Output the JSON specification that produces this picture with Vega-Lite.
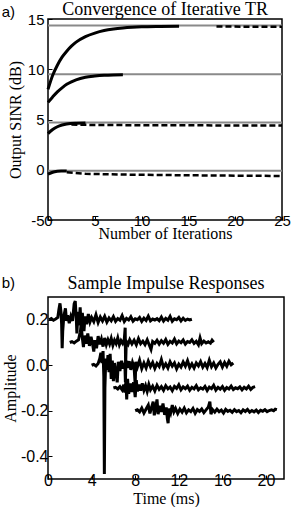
{
  "$schema": "https://vega.github.io/schema/vega-lite/v6.json",
  "padding": 0,
  "bounds": "flush",
  "spacing": 77,
  "background": "white",
  "config": {
    "view": {"stroke": "black", "strokeWidth": 1.5},
    "axis": {"domain": false, "grid": false, "tickColor": "black", "tickSize": -4, "tickWidth": 1,
      "labelFont": "Liberation Sans", "labelColor": "black", "labelOverlap": false, "labelBound": false, "labelFlush": false,
      "titleFont": "Liberation Serif", "titleFontWeight": "normal", "titleColor": "black", "titleFontSize": 16},
    "title": {"font": "Liberation Serif", "fontWeight": "normal", "fontSize": 18, "color": "black"}
  },
  "datasets": {
    "conv": [
      {"grp": 1, "style": "ref", "iter": 0, "sinr": 14.35}, {"grp": 1, "style": "ref", "iter": 25, "sinr": 14.35},
      {"grp": 2, "style": "ref", "iter": 0, "sinr": 9.5}, {"grp": 2, "style": "ref", "iter": 25, "sinr": 9.5},
      {"grp": 3, "style": "ref", "iter": 0, "sinr": 4.7}, {"grp": 3, "style": "ref", "iter": 25, "sinr": 4.7},
      {"grp": 4, "style": "ref", "iter": 0, "sinr": -0.1}, {"grp": 4, "style": "ref", "iter": 25, "sinr": -0.1},
      {"grp": 1, "style": "itr", "iter": 0, "sinr": 8.0}, {"grp": 1, "style": "itr", "iter": 0.5, "sinr": 9.4},
      {"grp": 1, "style": "itr", "iter": 1, "sinr": 10.4}, {"grp": 1, "style": "itr", "iter": 1.5, "sinr": 11.2},
      {"grp": 1, "style": "itr", "iter": 2, "sinr": 11.8}, {"grp": 1, "style": "itr", "iter": 2.5, "sinr": 12.3},
      {"grp": 1, "style": "itr", "iter": 3, "sinr": 12.7}, {"grp": 1, "style": "itr", "iter": 4, "sinr": 13.25},
      {"grp": 1, "style": "itr", "iter": 5, "sinr": 13.6}, {"grp": 1, "style": "itr", "iter": 6, "sinr": 13.85},
      {"grp": 1, "style": "itr", "iter": 7, "sinr": 14.0}, {"grp": 1, "style": "itr", "iter": 8, "sinr": 14.1},
      {"grp": 1, "style": "itr", "iter": 9, "sinr": 14.17}, {"grp": 1, "style": "itr", "iter": 10, "sinr": 14.22},
      {"grp": 1, "style": "itr", "iter": 12, "sinr": 14.26}, {"grp": 1, "style": "itr", "iter": 14, "sinr": 14.28},
      {"grp": 2, "style": "itr", "iter": 0, "sinr": 6.7}, {"grp": 2, "style": "itr", "iter": 0.5, "sinr": 7.25},
      {"grp": 2, "style": "itr", "iter": 1, "sinr": 7.75}, {"grp": 2, "style": "itr", "iter": 1.5, "sinr": 8.15},
      {"grp": 2, "style": "itr", "iter": 2, "sinr": 8.5}, {"grp": 2, "style": "itr", "iter": 2.5, "sinr": 8.75},
      {"grp": 2, "style": "itr", "iter": 3, "sinr": 8.95}, {"grp": 2, "style": "itr", "iter": 4, "sinr": 9.2},
      {"grp": 2, "style": "itr", "iter": 5, "sinr": 9.32}, {"grp": 2, "style": "itr", "iter": 6, "sinr": 9.4},
      {"grp": 2, "style": "itr", "iter": 7, "sinr": 9.44}, {"grp": 2, "style": "itr", "iter": 8, "sinr": 9.46},
      {"grp": 3, "style": "itr", "iter": 0, "sinr": 3.6}, {"grp": 3, "style": "itr", "iter": 0.5, "sinr": 4.0},
      {"grp": 3, "style": "itr", "iter": 1, "sinr": 4.28}, {"grp": 3, "style": "itr", "iter": 1.5, "sinr": 4.45},
      {"grp": 3, "style": "itr", "iter": 2, "sinr": 4.55}, {"grp": 3, "style": "itr", "iter": 3, "sinr": 4.62},
      {"grp": 3, "style": "itr", "iter": 4, "sinr": 4.64},
      {"grp": 4, "style": "itr", "iter": 0, "sinr": -0.45}, {"grp": 4, "style": "itr", "iter": 0.5, "sinr": -0.25},
      {"grp": 4, "style": "itr", "iter": 1, "sinr": -0.16}, {"grp": 4, "style": "itr", "iter": 1.5, "sinr": -0.13},
      {"grp": 4, "style": "itr", "iter": 2, "sinr": -0.12},
      {"grp": 1, "style": "alt", "iter": 18, "sinr": 14.25}, {"grp": 1, "style": "alt", "iter": 25, "sinr": 14.22},
      {"grp": 3, "style": "alt", "iter": 2.5, "sinr": 4.5}, {"grp": 3, "style": "alt", "iter": 5, "sinr": 4.45},
      {"grp": 3, "style": "alt", "iter": 15, "sinr": 4.42}, {"grp": 3, "style": "alt", "iter": 25, "sinr": 4.4},
      {"grp": 4, "style": "alt", "iter": 2, "sinr": -0.25}, {"grp": 4, "style": "alt", "iter": 4, "sinr": -0.4},
      {"grp": 4, "style": "alt", "iter": 8, "sinr": -0.48}, {"grp": 4, "style": "alt", "iter": 15, "sinr": -0.55},
      {"grp": 4, "style": "alt", "iter": 25, "sinr": -0.62}
    ],
    "tags": [{"panel": "a", "tag": "a)"}, {"panel": "b", "tag": "b)"}],
    "imp": [
      {"trace": 1, "t": 0.1, "amp": 0.200}, {"trace": 1, "t": 0.3, "amp": 0.205}, {"trace": 1, "t": 0.5, "amp": 0.198},
      {"trace": 1, "t": 0.7, "amp": 0.203}, {"trace": 1, "t": 0.9, "amp": 0.210}, {"trace": 1, "t": 1.0, "amp": 0.245},
      {"trace": 1, "t": 1.1, "amp": 0.272}, {"trace": 1, "t": 1.2, "amp": 0.230}, {"trace": 1, "t": 1.25, "amp": 0.180},
      {"trace": 1, "t": 1.3, "amp": 0.075}, {"trace": 1, "t": 1.35, "amp": 0.150}, {"trace": 1, "t": 1.45, "amp": 0.215},
      {"trace": 1, "t": 1.6, "amp": 0.250}, {"trace": 1, "t": 1.7, "amp": 0.195}, {"trace": 1, "t": 1.8, "amp": 0.220},
      {"trace": 1, "t": 1.95, "amp": 0.185}, {"trace": 1, "t": 2.1, "amp": 0.215}, {"trace": 1, "t": 2.25, "amp": 0.195},
      {"trace": 1, "t": 2.4, "amp": 0.270}, {"trace": 1, "t": 2.5, "amp": 0.282}, {"trace": 1, "t": 2.6, "amp": 0.200},
      {"trace": 1, "t": 2.65, "amp": 0.140}, {"trace": 1, "t": 2.75, "amp": 0.235}, {"trace": 1, "t": 2.85, "amp": 0.175},
      {"trace": 1, "t": 2.95, "amp": 0.255}, {"trace": 1, "t": 3.05, "amp": 0.160}, {"trace": 1, "t": 3.15, "amp": 0.230},
      {"trace": 1, "t": 3.3, "amp": 0.150}, {"trace": 1, "t": 3.4, "amp": 0.215}, {"trace": 1, "t": 3.55, "amp": 0.180},
      {"trace": 1, "t": 3.7, "amp": 0.225}, {"trace": 1, "t": 3.85, "amp": 0.190}, {"trace": 1, "t": 4.0, "amp": 0.210},
      {"trace": 1, "t": 4.2, "amp": 0.192}, {"trace": 1, "t": 4.4, "amp": 0.222}, {"trace": 1, "t": 4.6, "amp": 0.188},
      {"trace": 1, "t": 4.8, "amp": 0.212}, {"trace": 1, "t": 5.0, "amp": 0.195}, {"trace": 1, "t": 5.2, "amp": 0.215},
      {"trace": 1, "t": 5.4, "amp": 0.190}, {"trace": 1, "t": 5.6, "amp": 0.208}, {"trace": 1, "t": 5.8, "amp": 0.196},
      {"trace": 1, "t": 6.0, "amp": 0.214}, {"trace": 1, "t": 6.2, "amp": 0.193}, {"trace": 1, "t": 6.4, "amp": 0.205},
      {"trace": 1, "t": 6.6, "amp": 0.198}, {"trace": 1, "t": 6.8, "amp": 0.218}, {"trace": 1, "t": 7.0, "amp": 0.192},
      {"trace": 1, "t": 7.2, "amp": 0.206}, {"trace": 1, "t": 7.4, "amp": 0.199}, {"trace": 1, "t": 7.6, "amp": 0.213},
      {"trace": 1, "t": 7.8, "amp": 0.194}, {"trace": 1, "t": 8.0, "amp": 0.204}, {"trace": 1, "t": 8.2, "amp": 0.200},
      {"trace": 1, "t": 8.4, "amp": 0.210}, {"trace": 1, "t": 8.6, "amp": 0.193}, {"trace": 1, "t": 8.8, "amp": 0.207},
      {"trace": 1, "t": 9.0, "amp": 0.197}, {"trace": 1, "t": 9.2, "amp": 0.216}, {"trace": 1, "t": 9.4, "amp": 0.195},
      {"trace": 1, "t": 9.6, "amp": 0.203}, {"trace": 1, "t": 9.8, "amp": 0.199}, {"trace": 1, "t": 10.0, "amp": 0.205},
      {"trace": 1, "t": 10.2, "amp": 0.196}, {"trace": 1, "t": 10.4, "amp": 0.212}, {"trace": 1, "t": 10.6, "amp": 0.194},
      {"trace": 1, "t": 10.8, "amp": 0.206}, {"trace": 1, "t": 11.0, "amp": 0.198}, {"trace": 1, "t": 11.2, "amp": 0.215},
      {"trace": 1, "t": 11.4, "amp": 0.193}, {"trace": 1, "t": 11.6, "amp": 0.204}, {"trace": 1, "t": 11.8, "amp": 0.200},
      {"trace": 1, "t": 12.0, "amp": 0.210}, {"trace": 1, "t": 12.2, "amp": 0.195}, {"trace": 1, "t": 12.4, "amp": 0.207},
      {"trace": 1, "t": 12.6, "amp": 0.197}, {"trace": 1, "t": 12.8, "amp": 0.203}, {"trace": 1, "t": 13.0, "amp": 0.199},
      {"trace": 1, "t": 13.2, "amp": 0.202},
      {"trace": 2, "t": 2.0, "amp": 0.100}, {"trace": 2, "t": 2.2, "amp": 0.104}, {"trace": 2, "t": 2.4, "amp": 0.098},
      {"trace": 2, "t": 2.6, "amp": 0.106}, {"trace": 2, "t": 2.8, "amp": 0.112}, {"trace": 2, "t": 2.95, "amp": 0.145},
      {"trace": 2, "t": 3.05, "amp": 0.172}, {"trace": 2, "t": 3.15, "amp": 0.120}, {"trace": 2, "t": 3.25, "amp": 0.080},
      {"trace": 2, "t": 3.35, "amp": 0.130}, {"trace": 2, "t": 3.5, "amp": 0.095}, {"trace": 2, "t": 3.65, "amp": 0.140},
      {"trace": 2, "t": 3.8, "amp": 0.085}, {"trace": 2, "t": 3.95, "amp": 0.125}, {"trace": 2, "t": 4.1, "amp": 0.090},
      {"trace": 2, "t": 4.2, "amp": 0.060}, {"trace": 2, "t": 4.3, "amp": 0.110}, {"trace": 2, "t": 4.45, "amp": 0.075},
      {"trace": 2, "t": 4.6, "amp": 0.128}, {"trace": 2, "t": 4.75, "amp": 0.092}, {"trace": 2, "t": 4.9, "amp": 0.115},
      {"trace": 2, "t": 5.05, "amp": 0.082}, {"trace": 2, "t": 5.2, "amp": 0.120}, {"trace": 2, "t": 5.35, "amp": 0.090},
      {"trace": 2, "t": 5.5, "amp": 0.112}, {"trace": 2, "t": 5.65, "amp": 0.093}, {"trace": 2, "t": 5.8, "amp": 0.118},
      {"trace": 2, "t": 5.95, "amp": 0.088}, {"trace": 2, "t": 6.1, "amp": 0.110}, {"trace": 2, "t": 6.25, "amp": 0.095},
      {"trace": 2, "t": 6.4, "amp": 0.120}, {"trace": 2, "t": 6.55, "amp": 0.090}, {"trace": 2, "t": 6.7, "amp": 0.108},
      {"trace": 2, "t": 6.85, "amp": 0.096}, {"trace": 2, "t": 7.0, "amp": 0.115}, {"trace": 2, "t": 7.08, "amp": 0.165},
      {"trace": 2, "t": 7.12, "amp": 0.000}, {"trace": 2, "t": 7.18, "amp": 0.105}, {"trace": 2, "t": 7.35, "amp": 0.092},
      {"trace": 2, "t": 7.5, "amp": 0.112}, {"trace": 2, "t": 7.7, "amp": 0.094}, {"trace": 2, "t": 7.9, "amp": 0.110},
      {"trace": 2, "t": 8.1, "amp": 0.090}, {"trace": 2, "t": 8.3, "amp": 0.117}, {"trace": 2, "t": 8.5, "amp": 0.095},
      {"trace": 2, "t": 8.7, "amp": 0.106}, {"trace": 2, "t": 8.9, "amp": 0.091}, {"trace": 2, "t": 9.1, "amp": 0.112},
      {"trace": 2, "t": 9.3, "amp": 0.088}, {"trace": 2, "t": 9.45, "amp": 0.070}, {"trace": 2, "t": 9.6, "amp": 0.104},
      {"trace": 2, "t": 9.8, "amp": 0.096}, {"trace": 2, "t": 10.0, "amp": 0.110}, {"trace": 2, "t": 10.2, "amp": 0.093},
      {"trace": 2, "t": 10.4, "amp": 0.108}, {"trace": 2, "t": 10.6, "amp": 0.097}, {"trace": 2, "t": 10.8, "amp": 0.113},
      {"trace": 2, "t": 11.0, "amp": 0.092}, {"trace": 2, "t": 11.2, "amp": 0.105}, {"trace": 2, "t": 11.4, "amp": 0.098},
      {"trace": 2, "t": 11.6, "amp": 0.115}, {"trace": 2, "t": 11.8, "amp": 0.094}, {"trace": 2, "t": 12.0, "amp": 0.106},
      {"trace": 2, "t": 12.2, "amp": 0.099}, {"trace": 2, "t": 12.4, "amp": 0.111}, {"trace": 2, "t": 12.6, "amp": 0.093},
      {"trace": 2, "t": 12.8, "amp": 0.104}, {"trace": 2, "t": 13.0, "amp": 0.100}, {"trace": 2, "t": 13.2, "amp": 0.112},
      {"trace": 2, "t": 13.4, "amp": 0.096}, {"trace": 2, "t": 13.6, "amp": 0.105}, {"trace": 2, "t": 13.8, "amp": 0.090},
      {"trace": 2, "t": 13.95, "amp": 0.120}, {"trace": 2, "t": 14.1, "amp": 0.095}, {"trace": 2, "t": 14.3, "amp": 0.106},
      {"trace": 2, "t": 14.5, "amp": 0.098}, {"trace": 2, "t": 14.7, "amp": 0.103}, {"trace": 2, "t": 14.9, "amp": 0.097},
      {"trace": 2, "t": 15.05, "amp": 0.110}, {"trace": 2, "t": 15.2, "amp": 0.101},
      {"trace": 3, "t": 4.0, "amp": 0.000}, {"trace": 3, "t": 4.2, "amp": 0.004}, {"trace": 3, "t": 4.4, "amp": -0.003},
      {"trace": 3, "t": 4.6, "amp": 0.008}, {"trace": 3, "t": 4.75, "amp": 0.030}, {"trace": 3, "t": 4.85, "amp": 0.055},
      {"trace": 3, "t": 4.95, "amp": 0.010}, {"trace": 3, "t": 5.05, "amp": 0.062}, {"trace": 3, "t": 5.12, "amp": -0.050},
      {"trace": 3, "t": 5.17, "amp": -0.478}, {"trace": 3, "t": 5.22, "amp": -0.100}, {"trace": 3, "t": 5.3, "amp": 0.030},
      {"trace": 3, "t": 5.4, "amp": -0.020}, {"trace": 3, "t": 5.5, "amp": 0.045}, {"trace": 3, "t": 5.6, "amp": -0.030},
      {"trace": 3, "t": 5.7, "amp": 0.050}, {"trace": 3, "t": 5.8, "amp": -0.060}, {"trace": 3, "t": 5.9, "amp": 0.020},
      {"trace": 3, "t": 6.0, "amp": -0.070}, {"trace": 3, "t": 6.1, "amp": 0.010}, {"trace": 3, "t": 6.25, "amp": -0.040},
      {"trace": 3, "t": 6.35, "amp": -0.075}, {"trace": 3, "t": 6.45, "amp": 0.015}, {"trace": 3, "t": 6.6, "amp": -0.025},
      {"trace": 3, "t": 6.75, "amp": 0.020}, {"trace": 3, "t": 6.9, "amp": -0.015}, {"trace": 3, "t": 7.05, "amp": 0.010},
      {"trace": 3, "t": 7.1, "amp": -0.075}, {"trace": 3, "t": 7.15, "amp": 0.020}, {"trace": 3, "t": 7.3, "amp": -0.012},
      {"trace": 3, "t": 7.45, "amp": 0.018}, {"trace": 3, "t": 7.6, "amp": -0.020}, {"trace": 3, "t": 7.75, "amp": 0.012},
      {"trace": 3, "t": 7.9, "amp": -0.010}, {"trace": 3, "t": 8.0, "amp": -0.085}, {"trace": 3, "t": 8.05, "amp": 0.015},
      {"trace": 3, "t": 8.2, "amp": -0.008}, {"trace": 3, "t": 8.4, "amp": 0.022}, {"trace": 3, "t": 8.6, "amp": -0.015},
      {"trace": 3, "t": 8.8, "amp": 0.010}, {"trace": 3, "t": 9.0, "amp": -0.012}, {"trace": 3, "t": 9.2, "amp": 0.018},
      {"trace": 3, "t": 9.4, "amp": -0.006}, {"trace": 3, "t": 9.6, "amp": 0.012}, {"trace": 3, "t": 9.8, "amp": -0.014},
      {"trace": 3, "t": 10.0, "amp": 0.008}, {"trace": 3, "t": 10.2, "amp": -0.005}, {"trace": 3, "t": 10.4, "amp": 0.025},
      {"trace": 3, "t": 10.6, "amp": -0.010}, {"trace": 3, "t": 10.8, "amp": 0.006}, {"trace": 3, "t": 11.0, "amp": -0.012},
      {"trace": 3, "t": 11.2, "amp": 0.015}, {"trace": 3, "t": 11.4, "amp": -0.004}, {"trace": 3, "t": 11.6, "amp": 0.010},
      {"trace": 3, "t": 11.8, "amp": -0.016}, {"trace": 3, "t": 12.0, "amp": 0.005}, {"trace": 3, "t": 12.2, "amp": -0.008},
      {"trace": 3, "t": 12.4, "amp": 0.014}, {"trace": 3, "t": 12.6, "amp": -0.004}, {"trace": 3, "t": 12.8, "amp": 0.020},
      {"trace": 3, "t": 13.0, "amp": -0.010}, {"trace": 3, "t": 13.2, "amp": 0.006}, {"trace": 3, "t": 13.4, "amp": -0.012},
      {"trace": 3, "t": 13.6, "amp": 0.010}, {"trace": 3, "t": 13.8, "amp": -0.003}, {"trace": 3, "t": 14.0, "amp": 0.016},
      {"trace": 3, "t": 14.2, "amp": -0.008}, {"trace": 3, "t": 14.4, "amp": 0.008}, {"trace": 3, "t": 14.6, "amp": -0.010},
      {"trace": 3, "t": 14.8, "amp": 0.022}, {"trace": 3, "t": 15.0, "amp": -0.006}, {"trace": 3, "t": 15.2, "amp": 0.010},
      {"trace": 3, "t": 15.4, "amp": -0.012}, {"trace": 3, "t": 15.6, "amp": 0.004}, {"trace": 3, "t": 15.8, "amp": 0.015},
      {"trace": 3, "t": 16.0, "amp": -0.008}, {"trace": 3, "t": 16.2, "amp": 0.012}, {"trace": 3, "t": 16.4, "amp": -0.004},
      {"trace": 3, "t": 16.6, "amp": 0.018}, {"trace": 3, "t": 16.8, "amp": 0.002}, {"trace": 3, "t": 17.0, "amp": 0.010},
      {"trace": 4, "t": 6.0, "amp": -0.100}, {"trace": 4, "t": 6.2, "amp": -0.097}, {"trace": 4, "t": 6.4, "amp": -0.104},
      {"trace": 4, "t": 6.6, "amp": -0.094}, {"trace": 4, "t": 6.8, "amp": -0.108}, {"trace": 4, "t": 6.95, "amp": -0.085},
      {"trace": 4, "t": 7.05, "amp": -0.120}, {"trace": 4, "t": 7.15, "amp": -0.070}, {"trace": 4, "t": 7.22, "amp": -0.150},
      {"trace": 4, "t": 7.3, "amp": -0.060}, {"trace": 4, "t": 7.4, "amp": -0.125}, {"trace": 4, "t": 7.55, "amp": -0.080},
      {"trace": 4, "t": 7.7, "amp": -0.118}, {"trace": 4, "t": 7.85, "amp": -0.075}, {"trace": 4, "t": 8.0, "amp": -0.140},
      {"trace": 4, "t": 8.1, "amp": -0.065}, {"trace": 4, "t": 8.2, "amp": -0.115}, {"trace": 4, "t": 8.35, "amp": -0.085},
      {"trace": 4, "t": 8.5, "amp": -0.112}, {"trace": 4, "t": 8.65, "amp": -0.080}, {"trace": 4, "t": 8.8, "amp": -0.110},
      {"trace": 4, "t": 8.95, "amp": -0.090}, {"trace": 4, "t": 9.1, "amp": -0.115}, {"trace": 4, "t": 9.25, "amp": -0.085},
      {"trace": 4, "t": 9.4, "amp": -0.108}, {"trace": 4, "t": 9.6, "amp": -0.092}, {"trace": 4, "t": 9.8, "amp": -0.113},
      {"trace": 4, "t": 10.0, "amp": -0.088}, {"trace": 4, "t": 10.2, "amp": -0.106}, {"trace": 4, "t": 10.4, "amp": -0.094},
      {"trace": 4, "t": 10.6, "amp": -0.110}, {"trace": 4, "t": 10.8, "amp": -0.090}, {"trace": 4, "t": 11.0, "amp": -0.104},
      {"trace": 4, "t": 11.2, "amp": -0.096}, {"trace": 4, "t": 11.4, "amp": -0.112}, {"trace": 4, "t": 11.6, "amp": -0.093},
      {"trace": 4, "t": 11.8, "amp": -0.102}, {"trace": 4, "t": 12.0, "amp": -0.086}, {"trace": 4, "t": 12.2, "amp": -0.108},
      {"trace": 4, "t": 12.4, "amp": -0.095}, {"trace": 4, "t": 12.6, "amp": -0.103}, {"trace": 4, "t": 12.8, "amp": -0.092},
      {"trace": 4, "t": 13.0, "amp": -0.110}, {"trace": 4, "t": 13.2, "amp": -0.097}, {"trace": 4, "t": 13.4, "amp": -0.104},
      {"trace": 4, "t": 13.6, "amp": -0.090}, {"trace": 4, "t": 13.8, "amp": -0.108}, {"trace": 4, "t": 14.0, "amp": -0.099},
      {"trace": 4, "t": 14.2, "amp": -0.105}, {"trace": 4, "t": 14.4, "amp": -0.093}, {"trace": 4, "t": 14.6, "amp": -0.111},
      {"trace": 4, "t": 14.8, "amp": -0.096}, {"trace": 4, "t": 15.0, "amp": -0.103}, {"trace": 4, "t": 15.2, "amp": -0.088},
      {"trace": 4, "t": 15.4, "amp": -0.109}, {"trace": 4, "t": 15.6, "amp": -0.097}, {"trace": 4, "t": 15.8, "amp": -0.105},
      {"trace": 4, "t": 16.0, "amp": -0.094}, {"trace": 4, "t": 16.2, "amp": -0.110}, {"trace": 4, "t": 16.4, "amp": -0.098},
      {"trace": 4, "t": 16.6, "amp": -0.104}, {"trace": 4, "t": 16.8, "amp": -0.092}, {"trace": 4, "t": 17.0, "amp": -0.107},
      {"trace": 4, "t": 17.2, "amp": -0.099}, {"trace": 4, "t": 17.4, "amp": -0.103}, {"trace": 4, "t": 17.6, "amp": -0.095},
      {"trace": 4, "t": 17.8, "amp": -0.108}, {"trace": 4, "t": 18.0, "amp": -0.097}, {"trace": 4, "t": 18.2, "amp": -0.104},
      {"trace": 4, "t": 18.4, "amp": -0.092}, {"trace": 4, "t": 18.6, "amp": -0.106}, {"trace": 4, "t": 18.8, "amp": -0.097},
      {"trace": 4, "t": 19.0, "amp": -0.094},
      {"trace": 5, "t": 8.0, "amp": -0.200}, {"trace": 5, "t": 8.2, "amp": -0.196}, {"trace": 5, "t": 8.4, "amp": -0.205},
      {"trace": 5, "t": 8.6, "amp": -0.188}, {"trace": 5, "t": 8.8, "amp": -0.210}, {"trace": 5, "t": 9.0, "amp": -0.192},
      {"trace": 5, "t": 9.2, "amp": -0.175}, {"trace": 5, "t": 9.35, "amp": -0.212}, {"trace": 5, "t": 9.5, "amp": -0.185},
      {"trace": 5, "t": 9.65, "amp": -0.160}, {"trace": 5, "t": 9.75, "amp": -0.220}, {"trace": 5, "t": 9.9, "amp": -0.180},
      {"trace": 5, "t": 10.0, "amp": -0.150}, {"trace": 5, "t": 10.1, "amp": -0.215}, {"trace": 5, "t": 10.25, "amp": -0.178},
      {"trace": 5, "t": 10.4, "amp": -0.205}, {"trace": 5, "t": 10.55, "amp": -0.168}, {"trace": 5, "t": 10.7, "amp": -0.218},
      {"trace": 5, "t": 10.85, "amp": -0.185}, {"trace": 5, "t": 10.95, "amp": -0.235}, {"trace": 5, "t": 11.02, "amp": -0.255},
      {"trace": 5, "t": 11.1, "amp": -0.190}, {"trace": 5, "t": 11.25, "amp": -0.210}, {"trace": 5, "t": 11.4, "amp": -0.175},
      {"trace": 5, "t": 11.55, "amp": -0.205}, {"trace": 5, "t": 11.7, "amp": -0.190}, {"trace": 5, "t": 11.9, "amp": -0.212},
      {"trace": 5, "t": 12.1, "amp": -0.193}, {"trace": 5, "t": 12.3, "amp": -0.206}, {"trace": 5, "t": 12.5, "amp": -0.188},
      {"trace": 5, "t": 12.7, "amp": -0.209}, {"trace": 5, "t": 12.9, "amp": -0.196}, {"trace": 5, "t": 13.1, "amp": -0.204},
      {"trace": 5, "t": 13.3, "amp": -0.190}, {"trace": 5, "t": 13.5, "amp": -0.211}, {"trace": 5, "t": 13.7, "amp": -0.195},
      {"trace": 5, "t": 13.9, "amp": -0.203}, {"trace": 5, "t": 14.1, "amp": -0.192}, {"trace": 5, "t": 14.3, "amp": -0.208},
      {"trace": 5, "t": 14.5, "amp": -0.196}, {"trace": 5, "t": 14.7, "amp": -0.185}, {"trace": 5, "t": 14.85, "amp": -0.160},
      {"trace": 5, "t": 14.95, "amp": -0.215}, {"trace": 5, "t": 15.1, "amp": -0.195}, {"trace": 5, "t": 15.3, "amp": -0.206},
      {"trace": 5, "t": 15.5, "amp": -0.193}, {"trace": 5, "t": 15.7, "amp": -0.204}, {"trace": 5, "t": 15.9, "amp": -0.197},
      {"trace": 5, "t": 16.1, "amp": -0.210}, {"trace": 5, "t": 16.3, "amp": -0.194}, {"trace": 5, "t": 16.5, "amp": -0.203},
      {"trace": 5, "t": 16.7, "amp": -0.198}, {"trace": 5, "t": 16.9, "amp": -0.207}, {"trace": 5, "t": 17.1, "amp": -0.195},
      {"trace": 5, "t": 17.3, "amp": -0.204}, {"trace": 5, "t": 17.5, "amp": -0.199}, {"trace": 5, "t": 17.7, "amp": -0.209},
      {"trace": 5, "t": 17.9, "amp": -0.196}, {"trace": 5, "t": 18.1, "amp": -0.203}, {"trace": 5, "t": 18.3, "amp": -0.194},
      {"trace": 5, "t": 18.5, "amp": -0.206}, {"trace": 5, "t": 18.7, "amp": -0.199}, {"trace": 5, "t": 18.9, "amp": -0.205},
      {"trace": 5, "t": 19.1, "amp": -0.197}, {"trace": 5, "t": 19.3, "amp": -0.208}, {"trace": 5, "t": 19.5, "amp": -0.198},
      {"trace": 5, "t": 19.7, "amp": -0.202}, {"trace": 5, "t": 19.9, "amp": -0.195}, {"trace": 5, "t": 20.1, "amp": -0.204},
      {"trace": 5, "t": 20.3, "amp": -0.199}, {"trace": 5, "t": 20.5, "amp": -0.196}, {"trace": 5, "t": 20.7, "amp": -0.200},
      {"trace": 5, "t": 20.85, "amp": -0.193}, {"trace": 5, "t": 21.0, "amp": -0.195}
    ]
  },
  "vconcat": [
    {
      "width": 234,
      "height": 201,
      "title": {"text": "Convergence of Iterative TR", "offset": -14},
      "layer": [
        {"data": {"name": "conv"}, "transform": [{"filter": "datum.style == 'ref'"}],
         "mark": {"type": "line", "color": "#8a8a8a", "strokeWidth": 2},
         "encoding": {
           "x": {"field": "iter", "type": "quantitative",
             "scale": {"domain": [0, 25], "nice": false, "zero": false},
             "axis": {"values": [0, 5, 10, 15, 20, 25], "title": "Number of Iterations", "labelFontSize": 15, "labelPadding": -3, "titlePadding": -3}},
           "y": {"field": "sinr", "type": "quantitative",
             "scale": {"domain": [-5, 15], "nice": false, "zero": false},
             "axis": {"values": [-5, 0, 5, 10, 15], "title": "Output SINR (dB)", "labelFontSize": 15, "labelPadding": 8, "titlePadding": 4,
               "labelExpr": "(datum.value < 0 ? '-' : '') + abs(datum.value)"}},
           "detail": {"field": "grp"}}},
        {"data": {"name": "conv"}, "transform": [{"filter": "datum.style == 'itr'"}],
         "mark": {"type": "line", "color": "black", "strokeWidth": 3, "interpolate": "monotone"},
         "encoding": {
           "x": {"field": "iter", "type": "quantitative", "axis": {"title": "Number of Iterations"}},
           "y": {"field": "sinr", "type": "quantitative", "axis": {"title": "Output SINR (dB)"}},
           "detail": {"field": "grp"}}},
        {"data": {"name": "conv"}, "transform": [{"filter": "datum.style == 'alt'"}],
         "mark": {"type": "line", "color": "black", "strokeWidth": 2.5, "strokeDash": [6, 3]},
         "encoding": {
           "x": {"field": "iter", "type": "quantitative", "axis": {"title": "Number of Iterations"}},
           "y": {"field": "sinr", "type": "quantitative", "axis": {"title": "Output SINR (dB)"}},
           "detail": {"field": "grp"}}},
        {"data": {"name": "tags"}, "transform": [{"filter": "datum.panel == 'a'"}],
         "mark": {"type": "text", "align": "left", "baseline": "middle", "font": "Liberation Sans", "fontSize": 15, "color": "black", "clip": false},
         "encoding": {
           "text": {"field": "tag", "type": "nominal"},
           "x": {"datum": -4.95, "type": "quantitative", "axis": {"title": "Number of Iterations"}},
           "y": {"datum": 15.7, "type": "quantitative", "axis": {"title": "Output SINR (dB)"}}}}
      ]
    },
    {
      "width": 236,
      "height": 182,
      "title": {"text": "Sample Impulse Responses", "offset": -17},
      "layer": [
        {"data": {"name": "imp"},
         "mark": {"type": "line", "color": "black", "strokeWidth": 3, "strokeJoin": "miter"},
         "encoding": {
           "x": {"field": "t", "type": "quantitative",
             "scale": {"domain": [0, 21.65], "nice": false, "zero": false},
             "axis": {"values": [0, 2, 4, 6, 8, 10, 12, 14, 16, 18, 20], "title": "Time (ms)", "labelFontSize": 16, "titleFontSize": 16, "labelPadding": -3, "titlePadding": 2,
               "labelExpr": "datum.value % 4 == 0 ? '' + datum.value : ''"}},
           "y": {"field": "amp", "type": "quantitative",
             "scale": {"domain": [-0.5, 0.3], "nice": false, "zero": false},
             "axis": {"values": [-0.4, -0.3, -0.2, -0.1, 0, 0.1, 0.2], "title": "Amplitude", "labelFontSize": 16, "titleFontSize": 16, "labelPadding": 4, "titlePadding": 2,
               "labelExpr": "abs(round(datum.value * 10)) % 2 == 0 ? (datum.value < -0.001 ? '-' : '') + format(abs(datum.value), '.1f') : ''"}},
           "detail": {"field": "trace"}}},
        {"data": {"name": "tags"}, "transform": [{"filter": "datum.panel == 'b'"}],
         "mark": {"type": "text", "align": "left", "baseline": "middle", "font": "Liberation Sans", "fontSize": 15, "color": "black", "clip": false},
         "encoding": {
           "text": {"field": "tag", "type": "nominal"},
           "x": {"datum": -4.25, "type": "quantitative", "axis": {"title": "Time (ms)"}},
           "y": {"datum": 0.36, "type": "quantitative", "axis": {"title": "Amplitude"}}}}
      ]
    }
  ]
}
